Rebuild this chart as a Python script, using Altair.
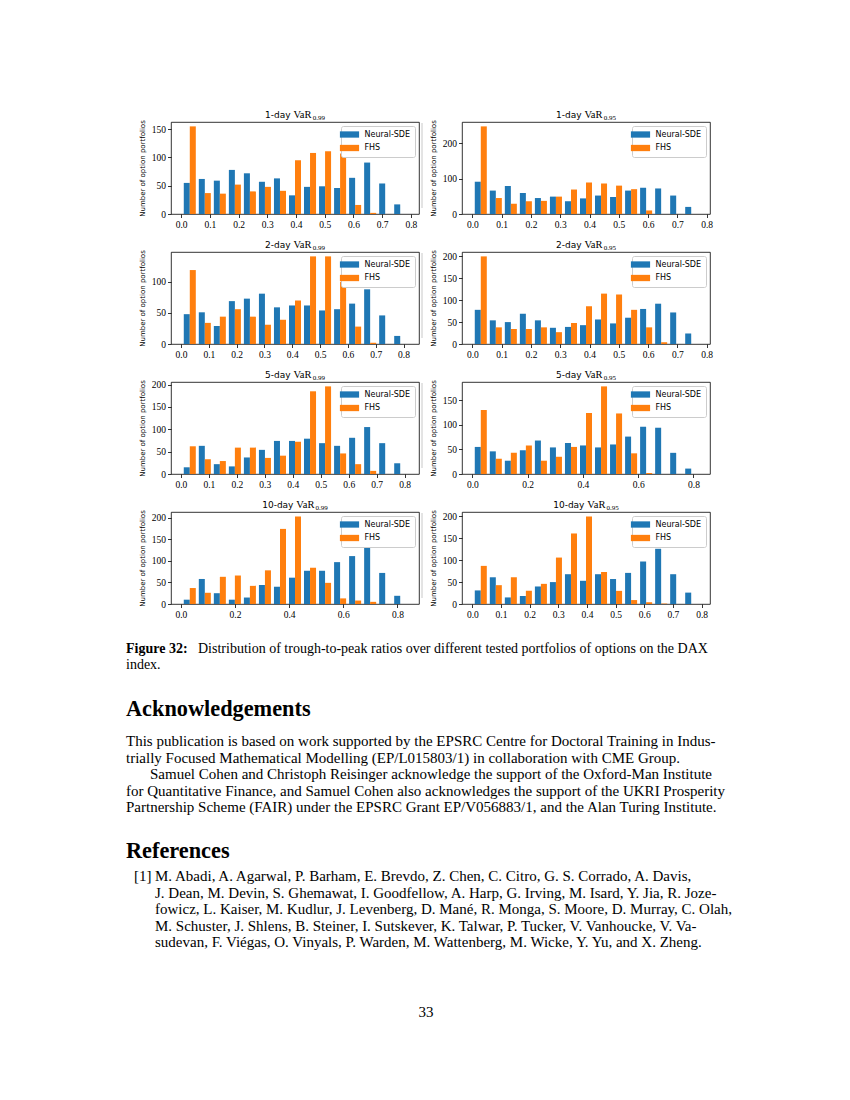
import altair as alt
import pandas as pd

# ---------------- data ----------------
SERIES = ["Neural-SDE", "FHS"]
COLORS = ["#1f77b4", "#ff7f0e"]
BIN_COUNT = 15

day_labels = ["1-day", "1-day", "2-day", "2-day", "5-day", "5-day", "10-day", "10-day"]
q_labels = ["0.99", "0.95", "0.99", "0.95", "0.99", "0.95", "0.99", "0.95"]

# range of the histogram bins (trough-to-peak ratio) per panel
bin_lo = [0.004, 0.003, 0.0045, 0.003, 0.005, 0.0033, 0.005, 0.0033]
bin_hi = [0.789, 0.773, 0.815, 0.773, 0.811, 0.819, 0.838, 0.790]

neural_sde = [
    [55, 62, 59, 78, 72, 57, 63, 33, 48, 49, 46, 64, 91, 54, 17],
    [91, 66, 79, 59, 45, 49, 36, 44, 52, 48, 66, 74, 72, 52, 20],
    [48, 51, 29, 69, 73, 81, 59, 62, 62, 54, 56, 65, 88, 46, 13],
    [78, 54, 50, 69, 54, 37, 39, 43, 56, 47, 60, 80, 92, 72, 24],
    [15, 63, 22, 17, 37, 54, 74, 74, 79, 69, 63, 81, 105, 69, 24],
    [55, 46, 27, 48, 68, 54, 63, 58, 54, 60, 76, 96, 94, 43, 11],
    [10, 58, 25, 10, 15, 44, 40, 61, 77, 77, 97, 111, 131, 72, 19],
    [31, 61, 15, 18, 40, 50, 68, 53, 68, 57, 71, 97, 126, 68, 26],
]
fhs = [
    [155, 37, 36, 52, 40, 48, 41, 95, 108, 111, 107, 16, 2, 0, 0],
    [247, 45, 29, 36, 37, 49, 69, 89, 86, 80, 70, 10, 0, 0, 0],
    [119, 34, 44, 56, 44, 31, 39, 70, 141, 141, 100, 28, 2, 0, 0],
    [200, 38, 34, 34, 38, 27, 48, 86, 115, 113, 78, 38, 4, 0, 0],
    [62, 33, 29, 59, 59, 36, 41, 72, 185, 196, 46, 22, 7, 0, 0],
    [130, 31, 43, 58, 27, 35, 55, 124, 178, 123, 42, 2, 0, 0, 0],
    [37, 26, 63, 66, 42, 78, 174, 203, 84, 49, 13, 8, 5, 0, 0],
    [87, 43, 61, 30, 46, 106, 161, 200, 73, 30, 9, 4, 1, 0, 0],
]

x_ticks_fine = [0.0, 0.1, 0.2, 0.3, 0.4, 0.5, 0.6, 0.7, 0.8]
x_ticks_coarse = [0.0, 0.2, 0.4, 0.6, 0.8]
x_ticks = [x_ticks_fine, x_ticks_fine, x_ticks_fine, x_ticks_fine,
           x_ticks_fine, x_ticks_coarse, x_ticks_coarse, x_ticks_fine]
y_ticks = [
    [0, 50, 100, 150],
    [0, 100, 200],
    [0, 50, 100],
    [0, 50, 100, 150, 200],
    [0, 50, 100, 150, 200],
    [0, 50, 100, 150],
    [0, 50, 100, 150, 200],
    [0, 50, 100, 150, 200],
]

caption_bold = "Figure 32:"
caption_line1 = "Distribution of trough-to-peak ratios over different tested portfolios of options on the DAX"
caption_line2 = "index."
ack_heading = "Acknowledgements"
ack_lines = [
    "This publication is based on work supported by the EPSRC Centre for Doctoral Training in Indus-",
    "trially Focused Mathematical Modelling (EP/L015803/1) in collaboration with CME Group.",
    "Samuel Cohen and Christoph Reisinger acknowledge the support of the Oxford-Man Institute",
    "for Quantitative Finance, and Samuel Cohen also acknowledges the support of the UKRI Prosperity",
    "Partnership Scheme (FAIR) under the EPSRC Grant EP/V056883/1, and the Alan Turing Institute.",
]
ref_heading = "References"
ref_label = "[1]"
ref_lines = [
    "M. Abadi, A. Agarwal, P. Barham, E. Brevdo, Z. Chen, C. Citro, G. S. Corrado, A. Davis,",
    "J. Dean, M. Devin, S. Ghemawat, I. Goodfellow, A. Harp, G. Irving, M. Isard, Y. Jia, R. Joze-",
    "fowicz, L. Kaiser, M. Kudlur, J. Levenberg, D. Mané, R. Monga, S. Moore, D. Murray, C. Olah,",
    "M. Schuster, J. Shlens, B. Steiner, I. Sutskever, K. Talwar, P. Tucker, V. Vanhoucke, V. Va-",
    "sudevan, F. Viégas, O. Vinyals, P. Warden, M. Wattenberg, M. Wicke, Y. Yu, and X. Zheng.",
]
page_number = "33"

# ---------------- layout ----------------
W, H = 248, 92
SERIF = "Liberation Serif"
SANS = "DejaVu Sans"
BODY = 15
CAPTION = 14
HEAD = 22.3
ROW0_TOP = 122       # page y of first panel frame
CELL5_TOP = ROW0_TOP + 4 * 130
CELL_LEFT = 170      # page x of left column frame


def text_layer(s, x, y, size, font=SERIF, weight="normal", align="left", baseline="alphabetic"):
    return alt.Chart(pd.DataFrame({"t": [s]})).mark_text(
        align=align, baseline=baseline, font=font, fontSize=size,
        fontWeight=weight, color="black"
    ).encode(text="t:N", x=alt.value(x), y=alt.value(y))


def panel(k):
    lo, hi = bin_lo[k], bin_hi[k]
    w = (hi - lo) / BIN_COUNT
    rows = []
    for i in range(BIN_COUNT):
        left = lo + i * w
        rows.append({"series": SERIES[0], "x0": left + 0.1 * w, "x1": left + 0.5 * w, "n": neural_sde[k][i]})
        rows.append({"series": SERIES[1], "x0": left + 0.5 * w, "x1": left + 0.9 * w, "n": fhs[k][i]})
    df = pd.DataFrame(rows)
    pad = 0.05 * (hi - lo)
    ymax = max(max(neural_sde[k]), max(fhs[k])) * 1.05

    bars = alt.Chart(df).mark_bar(strokeWidth=0).encode(
        x=alt.X("x0:Q",
                scale=alt.Scale(domain=[lo - pad, hi + pad], nice=False, zero=False),
                axis=alt.Axis(values=x_ticks[k], format=".1f", title="", labelFlush=False,
                              labelOverlap=False)),
        x2="x1:Q",
        y=alt.Y("n:Q",
                scale=alt.Scale(domain=[0, ymax], nice=False),
                axis=alt.Axis(values=y_ticks[k], format="d", title="Number of option portfolios",
                              titleX=-25.5, titleY=H / 2, labelOverlap=False)),
        y2=alt.datum(0),
        color=alt.Color("series:N", title=None,
                        scale=alt.Scale(domain=SERIES, range=COLORS),
                        legend=alt.Legend(orient="top-right", offset=4, fillColor="white",
                                          strokeColor="#cccccc", padding=4.5, cornerRadius=2,
                                          symbolType="M-3.2,-1.05H3.2V1.05H-3.2Z", symbolSize=36,
                                          symbolStrokeWidth=0, labelFont=SANS, labelFontSize=8,
                                          labelColor="black", rowPadding=5.5, labelOffset=11)),
    )

    # title: "<n>-day VaR_{q}"
    day = day_labels[k] + " "
    w_day = 9 * (0.636 * (len(day_labels[k]) - 4) + 0.361 + 0.635 + 0.613 + 0.592 + 0.318)
    w_var = 10.5 * 1.833
    w_q = 7 * 1.75
    x0 = W / 2 - (w_day + w_var + w_q) / 2
    layers = [
        bars,
        text_layer(day, x0, -4, 9, font=SANS),
        text_layer("VaR", x0 + w_day, -4, 10.5),
        text_layer(q_labels[k], x0 + w_day + w_var, -2, 7),
    ]
    if k == 0:
        # invisible anchor fixing the top of the page layout
        layers.append(
            alt.Chart(pd.DataFrame({"a": [0]})).mark_rule(opacity=0, strokeWidth=1).encode(
                x=alt.value(0), x2=alt.value(1), y=alt.value(-113.5), y2=alt.value(-113.5)))
    if k % 2 == 1:
        # faint separator line left of the right-hand panels
        layers.append(
            alt.Chart(pd.DataFrame({"a": [0]})).mark_rule(color="#c8c8c8", strokeWidth=1).encode(
                x=alt.value(-40), y=alt.value(1), y2=alt.value(86)))
    return alt.layer(*layers).properties(width=W, height=H)


panels = [panel(k) for k in range(8)]

# ---------------- page text ----------------
def py(page_y):
    return page_y - CELL5_TOP


def px(page_x):
    return page_x - CELL_LEFT


text_layers = [
    text_layer(caption_bold, px(125), py(653), CAPTION, weight="bold"),
    text_layer(caption_line1, px(197), py(653), CAPTION),
    text_layer(caption_line2, px(125), py(669), CAPTION),
    text_layer(ack_heading, px(125), py(716), HEAD, weight="bold"),
]
ack_x = [125, 125, 149, 125, 125]
ack_y = [746, 762.6, 779.2, 795.8, 812.4]
for s, x, y in zip(ack_lines, ack_x, ack_y):
    text_layers.append(text_layer(s, px(x), py(y), BODY))
text_layers.append(text_layer(ref_heading, px(125), py(858), HEAD, weight="bold"))
text_layers.append(text_layer(ref_label, px(133), py(881), BODY))
ref_y = [881, 897.6, 914.2, 930.8, 947.4]
for s, y in zip(ref_lines, ref_y):
    text_layers.append(text_layer(s, px(154), py(y), BODY))
text_layers.append(text_layer(page_number, px(425), py(1017), BODY, align="center"))

page_text = alt.layer(*text_layers).properties(
    width=W, height=380, view=alt.ViewBackground(stroke="transparent"))

chart = alt.concat(
    *panels, page_text, columns=2, spacing={"row": 38, "column": 43}, bounds="flush"
).resolve_legend(color="independent").properties(
    padding={"left": 117, "top": 0, "right": 5, "bottom": 5}
).configure_view(
    stroke="black", strokeWidth=0.8
).configure_axis(
    grid=False, domain=False, tickColor="black", tickSize=3.5, tickWidth=0.8,
    labelFont=SERIF, labelFontSize=9.5, labelColor="black", labelPadding=2,
    titleFont=SANS, titleFontSize=7, titleFontWeight="normal", titleColor="black"
)

chart.save("out.html", embed_options={"renderer": "svg", "actions": False})
